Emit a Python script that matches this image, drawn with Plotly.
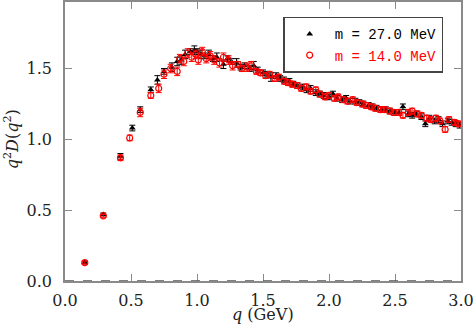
import plotly.graph_objects as go

# m = 27.0 MeV (black triangles)
q_m27 = [0.15, 0.29, 0.42, 0.51, 0.57, 0.65, 0.70, 0.75, 0.81, 0.85, 0.88, 0.91, 0.95, 0.98,
         1.00, 1.03, 1.06, 1.09, 1.12, 1.15, 1.20, 1.23, 1.26, 1.30, 1.33, 1.36, 1.40, 1.43,
         1.46, 1.50, 1.53, 1.56, 1.60, 1.63, 1.66, 1.70, 1.73, 1.76, 1.80, 1.83, 1.86, 1.90,
         1.93, 1.96, 2.00, 2.03, 2.06, 2.10, 2.13, 2.16, 2.20, 2.23, 2.26, 2.30, 2.33, 2.36,
         2.40, 2.43, 2.46, 2.50, 2.53, 2.56, 2.60, 2.63, 2.66, 2.70, 2.73, 2.76, 2.80, 2.83,
         2.86, 2.90, 2.93, 2.96, 2.99]
d_m27 = [0.13, 0.47, 0.88, 1.08, 1.21, 1.35, 1.42, 1.48, 1.51, 1.55, 1.56, 1.60, 1.62, 1.63,
         1.62, 1.60, 1.59, 1.60, 1.57, 1.58, 1.53, 1.57, 1.55, 1.54, 1.51, 1.52, 1.50, 1.52,
         1.49, 1.47, 1.46, 1.44, 1.45, 1.43, 1.42, 1.41, 1.39, 1.38, 1.37, 1.35, 1.36, 1.33,
         1.32, 1.31, 1.30, 1.32, 1.29, 1.28, 1.29, 1.27, 1.27, 1.26, 1.25, 1.24, 1.23, 1.22,
         1.21, 1.21, 1.20, 1.19, 1.19, 1.23, 1.18, 1.17, 1.18, 1.16, 1.11, 1.15, 1.13, 1.14,
         1.11, 1.13, 1.12, 1.11, 1.10]
e_m27 = [0.01, 0.01, 0.02, 0.02, 0.02, 0.02, 0.03, 0.02, 0.03, 0.03, 0.03, 0.03, 0.02, 0.03,
         0.02, 0.03, 0.02, 0.03, 0.02, 0.03, 0.03, 0.02, 0.02, 0.03, 0.02, 0.02, 0.02, 0.03,
         0.02, 0.02, 0.02, 0.03, 0.02, 0.02, 0.02, 0.02, 0.02, 0.02, 0.02, 0.02, 0.02, 0.02,
         0.02, 0.02, 0.02, 0.02, 0.02, 0.02, 0.02, 0.02, 0.02, 0.02, 0.02, 0.02, 0.02, 0.02,
         0.02, 0.02, 0.02, 0.02, 0.02, 0.02, 0.02, 0.02, 0.02, 0.02, 0.02, 0.02, 0.02, 0.02,
         0.02, 0.02, 0.02, 0.02, 0.02]

# m = 14.0 MeV (red open circles)
q_m14 = [0.15, 0.29, 0.42, 0.49, 0.57, 0.65, 0.71, 0.75, 0.80, 0.85, 0.87, 0.90, 0.93, 0.96,
         0.99, 1.01, 1.04, 1.07, 1.10, 1.13, 1.17, 1.20, 1.24, 1.27, 1.31, 1.34, 1.38, 1.41,
         1.45, 1.48, 1.52, 1.55, 1.59, 1.62, 1.66, 1.69, 1.72, 1.76, 1.79, 1.83, 1.86, 1.90,
         1.93, 1.97, 2.00, 2.04, 2.07, 2.11, 2.14, 2.18, 2.21, 2.25, 2.28, 2.32, 2.35, 2.39,
         2.42, 2.46, 2.49, 2.53, 2.56, 2.60, 2.63, 2.67, 2.70, 2.74, 2.77, 2.81, 2.84, 2.88,
         2.91, 2.95, 2.98]
d_m14 = [0.13, 0.46, 0.87, 1.01, 1.19, 1.31, 1.36, 1.46, 1.50, 1.48, 1.57, 1.55, 1.61, 1.58,
         1.60, 1.56, 1.62, 1.57, 1.59, 1.56, 1.54, 1.58, 1.56, 1.52, 1.53, 1.50, 1.51, 1.52,
         1.48, 1.47, 1.45, 1.46, 1.43, 1.44, 1.41, 1.40, 1.39, 1.38, 1.36, 1.37, 1.34, 1.35,
         1.32, 1.30, 1.31, 1.29, 1.30, 1.28, 1.27, 1.28, 1.26, 1.25, 1.24, 1.23, 1.22, 1.21,
         1.21, 1.20, 1.19, 1.19, 1.17, 1.19, 1.20, 1.18, 1.17, 1.15, 1.14, 1.15, 1.13, 1.07,
         1.14, 1.12, 1.11]
e_m14 = [0.01, 0.01, 0.02, 0.02, 0.03, 0.02, 0.03, 0.03, 0.03, 0.03, 0.03, 0.03, 0.03, 0.03,
         0.03, 0.03, 0.03, 0.03, 0.03, 0.03, 0.03, 0.03, 0.03, 0.03, 0.02, 0.02, 0.03, 0.03,
         0.02, 0.02, 0.02, 0.02, 0.02, 0.02, 0.02, 0.02, 0.02, 0.02, 0.02, 0.02, 0.02, 0.02,
         0.02, 0.02, 0.02, 0.02, 0.02, 0.02, 0.02, 0.02, 0.02, 0.02, 0.02, 0.02, 0.02, 0.02,
         0.02, 0.02, 0.02, 0.02, 0.02, 0.02, 0.02, 0.02, 0.02, 0.02, 0.02, 0.02, 0.02, 0.02,
         0.02, 0.02, 0.02]

x_ticks = [0.0, 0.5, 1.0, 1.5, 2.0, 2.5, 3.0]
y_ticks = [0.0, 0.5, 1.0, 1.5, 2.0]

fig = go.Figure()
fig.add_trace(go.Scatter(
    x=q_m27, y=d_m27, mode="markers", name="m = 27.0 MeV",
    marker=dict(symbol="triangle-up", size=6, color="black"),
    error_y=dict(type="data", array=e_m27, color="black", thickness=1, width=3),
))
fig.add_trace(go.Scatter(
    x=q_m14, y=d_m14, mode="markers",
    name="<span style='color:red'>m = 14.0 MeV</span>",
    marker=dict(symbol="circle-open", size=6, color="red", line=dict(width=1.2, color="red")),
    error_y=dict(type="data", array=e_m14, color="red", thickness=1, width=3),
))

axis_common = dict(
    showgrid=False, zeroline=False, showline=True, mirror="ticks",
    linecolor="#8a8a8a", linewidth=1.5, ticks="inside", ticklen=7,
    tickcolor="#8a8a8a", tickwidth=1,
    tickfont=dict(family="DejaVu Serif", size=16, color="#222"),
    tickformat=".1f", ticklabeloverflow="allow",
)
fig.update_xaxes(range=[0, 3.0], tickvals=x_ticks, ticklabelstandoff=4, **axis_common)
fig.update_yaxes(range=[0, 1.97], tickvals=y_ticks, ticklabelstandoff=8, **axis_common)

fig.add_shape(type="line", xref="paper", yref="y", x0=0, x1=1, y0=0, y1=0,
              line=dict(color="#555555", width=1.5, dash="dash"), layer="above")

fig.add_annotation(text="<i>q</i><sup>2</sup><i>D</i>(<i>q</i><sup>2</sup>)",
                   xref="paper", yref="paper", x=-0.133, y=0.509, textangle=-90,
                   xanchor="center", yanchor="middle",
                   showarrow=False, font=dict(family="DejaVu Serif", size=16, color="#222"))
fig.add_annotation(text="<i>q</i> (GeV)", xref="paper", yref="paper", x=0.499, y=-0.12,
                   xanchor="center", yanchor="middle",
                   showarrow=False, font=dict(family="DejaVu Serif", size=16, color="#222"))

fig.update_layout(
    width=474, height=324,
    margin=dict(l=65, r=10, t=0, b=43),
    paper_bgcolor="white", plot_bgcolor="white",
    showlegend=True,
    legend=dict(x=0.551, y=0.947, xanchor="left", yanchor="top",
                bordercolor="#444", borderwidth=1.5, bgcolor="white",
                font=dict(family="Liberation Mono", size=14, color="black"),
                itemwidth=40, tracegroupgap=0),
)

fig.write_html("out.html")
